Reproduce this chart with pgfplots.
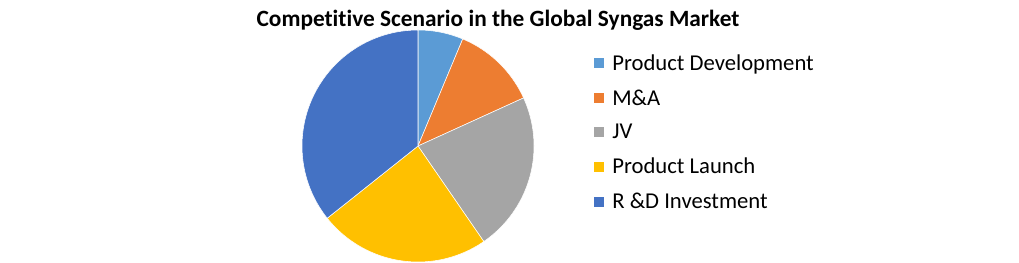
\documentclass[border=0pt]{standalone}
\usepackage{pgfplots}
\pgfplotsset{compat=1.18}
\usepackage{fontspec}
\setmainfont{Carlito}[Ligatures=NoCommon]
\definecolor{cPD}{HTML}{5B9BD5}
\definecolor{cMA}{HTML}{ED7D31}
\definecolor{cJV}{HTML}{A5A5A5}
\definecolor{cPL}{HTML}{FFC000}
\definecolor{cRD}{HTML}{4472C4}
% slice shares (percent)
\def\vPD{6.3}\def\vMA{11.9}\def\vJV{22.2}\def\vPL{23.9}\def\vRD{35.7}
\pgfmathsetmacro\cA{0}
\pgfmathsetmacro\cB{\cA+\vPD}
\pgfmathsetmacro\cC{\cB+\vMA}
\pgfmathsetmacro\cD{\cC+\vJV}
\pgfmathsetmacro\cE{\cD+\vPL}
\pgfmathsetmacro\cF{\cE+\vRD}
\def\cx{418}\def\cy{117}\def\rr{116}
\begin{document}
\begin{tikzpicture}
\begin{axis}[
  x=0.75pt, y=0.75pt,
  xmin=0, xmax=1019, ymin=0, ymax=263,
  hide axis, clip=false,
  legend cell align=left,
  legend style={at={(axis cs:590,214)}, anchor=north west, draw=none, fill=none,
    font=\fontsize{17}{20}\selectfont, row sep=8.9pt,
    /tikz/every odd column/.append style={column sep=4pt},
    /tikz/every even column/.append style={column sep=2pt}},
  legend image code/.code={\fill[#1,draw=none] (0cm,-0.13cm) rectangle (0.265cm,0.135cm);},
]
\path (axis cs:0,0) rectangle (axis cs:1019,263);
\addplot[fill=cPD, draw=white, line width=0.4pt, domain={90-3.6*\cB}:{90-3.6*\cA}, samples=40, variable=\t]
  ({\cx+\rr*cos(t)},{\cy+\rr*sin(t)}) -- (axis cs:\cx,\cy) -- cycle;
\addlegendentry{Product Development}
\addplot[fill=cMA, draw=white, line width=0.4pt, domain={90-3.6*\cC}:{90-3.6*\cB}, samples=40, variable=\t]
  ({\cx+\rr*cos(t)},{\cy+\rr*sin(t)}) -- (axis cs:\cx,\cy) -- cycle;
\addlegendentry{M\&A}
\addplot[fill=cJV, draw=white, line width=0.4pt, domain={90-3.6*\cD}:{90-3.6*\cC}, samples=60, variable=\t]
  ({\cx+\rr*cos(t)},{\cy+\rr*sin(t)}) -- (axis cs:\cx,\cy) -- cycle;
\addlegendentry{JV}
\addplot[fill=cPL, draw=white, line width=0.4pt, domain={90-3.6*\cE}:{90-3.6*\cD}, samples=60, variable=\t]
  ({\cx+\rr*cos(t)},{\cy+\rr*sin(t)}) -- (axis cs:\cx,\cy) -- cycle;
\addlegendentry{Product Launch}
\addplot[fill=cRD, draw=white, line width=0.4pt, domain={90-3.6*\cF}:{90-3.6*\cE}, samples=80, variable=\t]
  ({\cx+\rr*cos(t)},{\cy+\rr*sin(t)}) -- (axis cs:\cx,\cy) -- cycle;
\addlegendentry{R \&D Investment}
\node[font=\fontsize{17.5}{20}\selectfont\bfseries, anchor=center] at (axis cs:498,243) {Competitive Scenario in the Global Syngas Market};
\end{axis}
\end{tikzpicture}
\end{document}
